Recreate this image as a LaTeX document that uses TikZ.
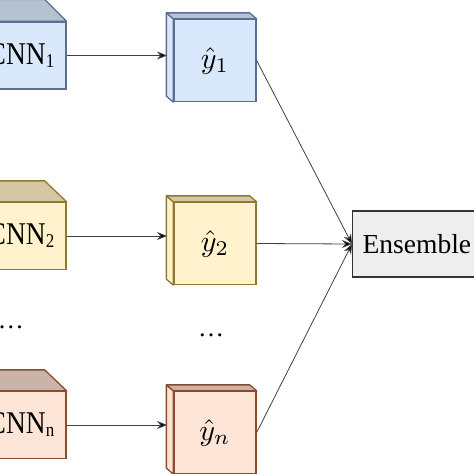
\documentclass[tikz,border=0pt]{standalone}
\usepackage{fontspec}
\setmainfont{Liberation Serif}
\usetikzlibrary{calc,arrows.meta}
\definecolor{bluefill}{HTML}{DAE8FC}
\definecolor{bluedraw}{HTML}{5B6E93}
\definecolor{bluetop}{HTML}{B7C2D1}
\definecolor{yelfill}{HTML}{FFF2CC}
\definecolor{yeldraw}{HTML}{8F7B2F}
\definecolor{yeltop}{HTML}{D5C7A3}
\definecolor{orfill}{HTML}{FCE4D6}
\definecolor{ordraw}{HTML}{8C4B2C}
\definecolor{ortop}{HTML}{C8B4A8}
\definecolor{ensfill}{HTML}{EEEEEE}
\definecolor{ensdraw}{HTML}{333333}
\newcommand{\yhatlabel}[1]{\scalebox{3}{$\hat{y}_{#1}$}}
\newcommand{\cnnlabel}[1]{\scalebox{1}[1.15]{CNN\raisebox{-2.6pt}{\fontsize{17}{17}\selectfont #1}}}
\begin{document}
\begin{tikzpicture}[x=1pt,y=-1pt,
  cnnbox/.style={rectangle, line width=1.3pt, minimum width=90pt, minimum height=67pt, inner sep=0pt, font=\fontsize{27.5}{32}\selectfont},
  ybox/.style={rectangle, line width=1.3pt, minimum width=82pt, minimum height=82pt, inner sep=0pt},
  face/.style={line width=1.3pt, line join=round},
  ensbox/.style={rectangle, draw=ensdraw, fill=ensfill, line width=1.3pt, minimum height=66pt, inner xsep=10pt, inner ysep=0pt, anchor=west, font=\fontsize{27.5}{32}\selectfont},
  arr/.style={draw=black!75, line width=0.8pt, -{Stealth[length=10pt,width=8pt,fill=black]}},
  dotsnode/.style={inner sep=0pt, font=\fontsize{26}{30}\selectfont}
]
\useasboundingbox (0,0) rectangle (474,474);
\clip (0,0) rectangle (474,474);

% CNN boxes
\node[cnnbox, draw=bluedraw, fill=bluefill] (c1) at (21,55.5) {\raisebox{-0.5pt}{\cnnlabel{1}}};
\filldraw[face, draw=bluedraw, fill=bluetop] (c1.north west) -- (c1.north east) -- ++(-22,-22) -- ($(c1.north west)+(-22,-22)$) -- cycle;

\node[cnnbox, draw=yeldraw, fill=yelfill] (c2) at (21,236) {\raisebox{-6.5pt}{\cnnlabel{2}}};
\filldraw[face, draw=yeldraw, fill=yeltop] (c2.north west) -- (c2.north east) -- ++(-22,-21) -- ($(c2.north west)+(-22,-21)$) -- cycle;

\node[cnnbox, draw=ordraw, fill=orfill] (cn) at (21,425) {\raisebox{-6pt}{\cnnlabel{n}}};
\filldraw[face, draw=ordraw, fill=ortop] (cn.north west) -- (cn.north east) -- ++(-22,-21) -- ($(cn.north west)+(-22,-21)$) -- cycle;

% y-hat boxes
\node[ybox, draw=bluedraw, fill=bluefill] (y1) at (215,60.5) {\raisebox{-4pt}{\yhatlabel{1}}};
\filldraw[face, draw=bluedraw, fill=bluefill] (y1.north west) -- ++(-7,-6) -- ($(y1.south west)+(-7,-6)$) -- (y1.south west) -- cycle;
\filldraw[face, draw=bluedraw, fill=bluetop] (y1.north west) -- ++(-7,-6) -- ($(y1.north east)+(-7,-6)$) -- (y1.north east) -- cycle;

\node[ybox, draw=yeldraw, fill=yelfill] (y2) at (215,243.5) {\raisebox{-4pt}{\yhatlabel{2}}};
\filldraw[face, draw=yeldraw, fill=yelfill] (y2.north west) -- ++(-7,-6) -- ($(y2.south west)+(-7,-6)$) -- (y2.south west) -- cycle;
\filldraw[face, draw=yeldraw, fill=yeltop] (y2.north west) -- ++(-7,-6) -- ($(y2.north east)+(-7,-6)$) -- (y2.north east) -- cycle;

\node[ybox, draw=ordraw, fill=orfill] (yn) at (215,432.5) {\raisebox{-3pt}{\yhatlabel{n}}};
\filldraw[face, draw=ordraw, fill=orfill] (yn.north west) -- ++(-7,-6) -- ($(yn.south west)+(-7,-6)$) -- (yn.south west) -- cycle;
\filldraw[face, draw=ordraw, fill=ortop] (yn.north west) -- ++(-7,-6) -- ($(yn.north east)+(-7,-6)$) -- (yn.north east) -- cycle;

\coordinate (s1) at (167,60);
\coordinate (s2) at (167,243);
\coordinate (sn) at (167,432);

% Ensemble
\node[ensbox] (ens) at (352,244) {Ensemble};

% dots
\node[dotsnode] (d1) at (11,327) {…};
\node[dotsnode] (d2) at (211,335) {…};

% arrows
\draw[arr] (c1.east) -- (c1.east -| s1);
\draw[arr] (c2.east) -- (c2.east -| s2);
\draw[arr] (cn.east) -- (cn.east -| sn);
\draw[arr] (y1.east) -- (ens.west);
\draw[arr] (y2.east) -- (ens.west);
\draw[arr] (yn.east) -- (ens.west);
\end{tikzpicture}
\end{document}
